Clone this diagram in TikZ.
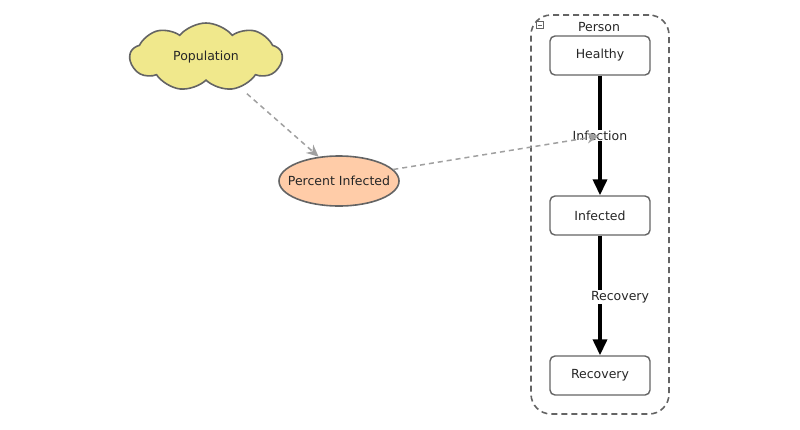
\documentclass[tikz,border=0pt]{standalone}
\usepackage{fontspec}
\setmainfont{DejaVu Sans}
\usetikzlibrary{shapes.symbols,shapes.geometric,arrows.meta}
\definecolor{cloudfill}{RGB}{240,232,140}
\definecolor{peach}{RGB}{255,204,168}
\definecolor{edgegray}{RGB}{100,100,100}
\definecolor{linkgray}{RGB}{160,160,160}
\tikzset{
  lbl/.style={font=\fontsize{12.5}{14}\selectfont, text=black!85},
  statebox/.style={draw=edgegray, line width=1.4pt, rounded corners=5pt, fill=white,
    minimum width=100pt, minimum height=39pt, inner sep=0pt, lbl},
  trans/.style={line width=3.6pt, -{Triangle[length=16pt,width=14pt]}},
  link/.style={draw=linkgray, line width=1.5pt, dash pattern=on 5pt off 4pt,
    -{Stealth[length=12pt,width=11pt]}},
  tlabel/.style={lbl, fill=white, inner sep=1pt}
}
\begin{document}
\begin{tikzpicture}[x=1pt,y=-1pt]
\useasboundingbox (0,0) rectangle (800,429);
% container
\node[draw=edgegray, line width=1.6pt, dash pattern=on 6pt off 4pt, rounded corners=20pt,
  minimum width=138pt, minimum height=399pt, inner sep=0pt] (person) at (600,214.5) {};
\node[lbl] (personlbl) at (599,27) {Person};
\node[draw=edgegray, line width=0.6pt, minimum width=7pt, minimum height=7pt, inner sep=0pt] (collapse) at (540,25) {};
\draw[edgegray, line width=0.8pt] (collapse.west) ++(1.5,0) -- ([xshift=-1.5pt]collapse.east);
% states
\node[statebox] (healthy) at (600,55.5) {Healthy};
\node[statebox] (infected) at (600,215.5) {Infected};
\node[statebox] (recovery) at (600,375.5) {Recovery};
% transitions
\draw[trans] (healthy.south) -- (infected.north)
  node[tlabel, pos=0.5] (inflbl) {Infection};
\coordinate (infmid) at (599,136);
\draw[trans] (infected.south) -- (recovery.north);
\node[tlabel] (reclbl) at (620,297) {Recovery};
% population cloud
\node[cloud, cloud puffs=9, cloud puff arc=100, aspect=2.3, draw=edgegray, line width=1.6pt,
  fill=cloudfill, minimum width=152pt, minimum height=68pt, inner sep=0pt] (pop) at (206,57) {};
\node[lbl] (poptext) at (pop.center) {Population};
% percent infected
\node[ellipse, draw=edgegray, line width=1.6pt, fill=peach, minimum width=120pt,
  minimum height=50pt, inner sep=0pt] (pct) at (339,181) {};
\node[lbl] (pcttext) at (pct.center) {Percent Infected};
% links
\draw[link, shorten <=9pt] (pop.-42) -- (pct.130);
\draw[link] (pct.12) -- (infmid);
\end{tikzpicture}
\end{document}
